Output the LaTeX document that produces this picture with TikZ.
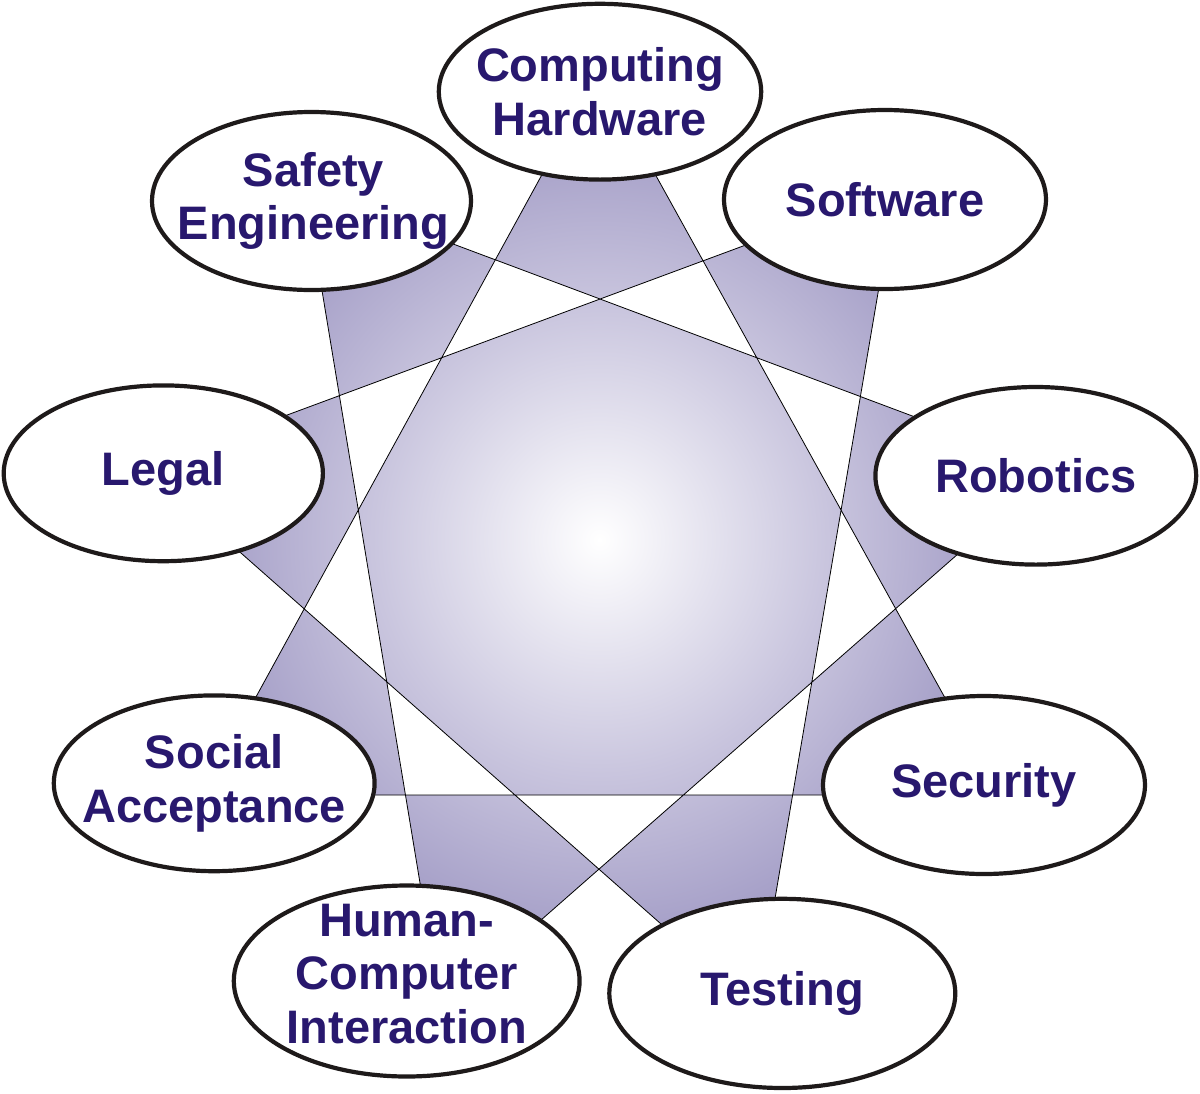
\documentclass[tikz,border=0pt]{standalone}
\usepackage{fontspec}
\setmainfont{Liberation Sans}
\usetikzlibrary{shapes.geometric}
\definecolor{txt}{RGB}{40,24,110}
\definecolor{edgec}{RGB}{30,26,26}
\definecolor{lavmid}{RGB}{201,197,222}
\definecolor{lavout}{RGB}{150,143,190}
\pgfdeclareradialshading{starshade}{\pgfpoint{0bp}{0bp}}{color(0bp)=(white); color(12.5bp)=(lavmid); color(25bp)=(lavout); color(50bp)=(lavout)}
\tikzset{
  oval/.style={ellipse, draw=edgec, line width=4.2pt, fill=white, inner sep=0pt, outer sep=0pt},
  lbl/.style={font=\fontsize{47}{53.3}\selectfont\bfseries, text=txt, align=center, inner sep=0pt},
  starline/.style={draw=black, line width=0.8pt, line join=miter}
}
\begin{document}
\begin{tikzpicture}[x=1pt,y=-1pt]
\useasboundingbox (0,0) rectangle (1200,1093);
% inner nonagon vertices
\coordinate (n1) at (600,299);
\coordinate (n2) at (756.7,357.7);
\coordinate (n3) at (841,510);
\coordinate (n4) at (811.7,682.3);
\coordinate (n5) at (683.3,795);
\coordinate (n6) at (515,795);
\coordinate (n7) at (386.7,681.7);
\coordinate (n8) at (358.3,510);
\coordinate (n9) at (441.7,357.7);
% triangle vertices
\coordinate (tCH)  at (intersection of n8--n9 and n2--n3);
\coordinate (tSec) at (intersection of n2--n3 and n5--n6);
\coordinate (tSoc) at (intersection of n5--n6 and n8--n9);
\coordinate (tSw)  at (intersection of n9--n1 and n3--n4);
\coordinate (tTe)  at (intersection of n3--n4 and n6--n7);
\coordinate (tLe)  at (intersection of n6--n7 and n9--n1);
\coordinate (tRo)  at (intersection of n1--n2 and n4--n5);
\coordinate (tHC)  at (intersection of n4--n5 and n7--n8);
\coordinate (tSa)  at (intersection of n7--n8 and n1--n2);
% star
\shade[even odd rule, shading=starshade]
  (tCH) -- (tSec) -- (tSoc) -- cycle
  (tSw) -- (tTe) -- (tLe) -- cycle
  (tRo) -- (tHC) -- (tSa) -- cycle;
\path[starline]
  (tCH) -- (tSec) -- (tSoc) -- cycle
  (tSw) -- (tTe) -- (tLe) -- cycle
  (tRo) -- (tHC) -- (tSa) -- cycle;
% ellipses
\node[oval, minimum width=322.4pt, minimum height=175.8pt] (ch)  at (600,91.7) {};
\node[oval, minimum width=322pt,   minimum height=179pt]   (sw)  at (885,199.5) {};
\node[oval, minimum width=320.8pt, minimum height=177.6pt] (ro)  at (1035.8,475.8) {};
\node[oval, minimum width=322pt,   minimum height=178pt]   (se)  at (984,785) {};
\node[oval, minimum width=346pt,   minimum height=189.2pt] (te)  at (782.3,993.4) {};
\node[oval, minimum width=345.8pt, minimum height=191pt]   (hc)  at (406.7,981) {};
\node[oval, minimum width=320.8pt, minimum height=175.8pt] (so)  at (214.2,783.3) {};
\node[oval, minimum width=319.2pt, minimum height=175.8pt] (le)  at (163.3,473.3) {};
\node[oval, minimum width=319pt,   minimum height=178pt]   (sa)  at (311.5,201) {};
% labels
\node[lbl] (ch-t) at (ch.center) {Computing\\Hardware};
\node[lbl] (sw-t) at (sw.center) {Software};
\node[lbl] (ro-t) at (ro.center) {Robotics};
\node[lbl] (se-t) at (se.center) {Security};
\node[lbl] (te-t) at (te.center) {Testing};
\node[lbl, yshift=7pt] (hc-t) at (hc.center) {Human-\\Computer\\Interaction};
\node[lbl] (so-t) at (so.center) {Social\\Acceptance};
\node[lbl] (le-t) at (le.center) {Legal};
\node[lbl, xshift=2pt] (sa-t) at (sa.center) {Safety\\Engineering};
\end{tikzpicture}
\end{document}
